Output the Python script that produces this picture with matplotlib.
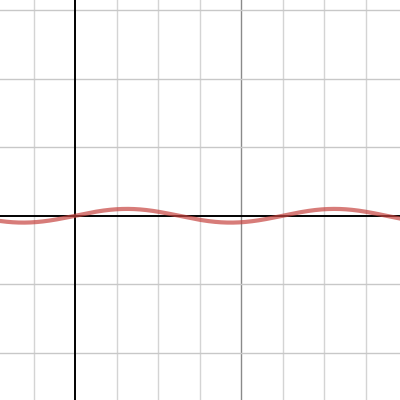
import numpy as np
import matplotlib
matplotlib.use("Agg")
import matplotlib.pyplot as plt

# curve parameters (grid units)
amplitude = 0.1
period = 5.0
x_range = [-1.81, 7.83]
y_range = [-2.69, 3.15]
minor_x = [-1, 1, 2, 3, 5, 6, 7]
major_x = [4]
grid_y = [-2, -1, 1, 2, 3]

fig = plt.figure(figsize=(4, 4), dpi=100)
ax = fig.add_axes([0, 0, 1, 1])
ax.set_xlim(*x_range)
ax.set_ylim(*y_range)
for v in minor_x:
    ax.axvline(v, color="#d4d4d4", lw=1, zorder=0)
for v in major_x:
    ax.axvline(v, color="#8a8a8a", lw=1, zorder=0)
for v in grid_y:
    ax.axhline(v, color="#c8c8c8", lw=1, zorder=0)
ax.axvline(0, color="black", lw=1.4, zorder=1)
ax.axhline(0, color="black", lw=1.4, zorder=1)
xs = np.linspace(x_range[0], x_range[1], 600)
ax.plot(xs, amplitude * np.sin(2 * np.pi * xs / period), color="#c74440", alpha=0.7, lw=3, zorder=2)
ax.set_axis_off()
fig.savefig("out.png", dpi=100)
